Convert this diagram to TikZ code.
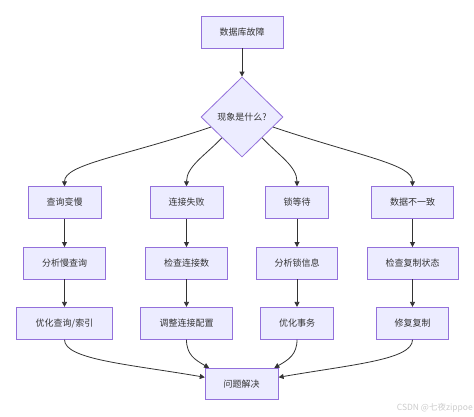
\documentclass[tikz,border=0pt]{standalone}
\usepackage{fontspec}
\setmainfont{Noto Sans CJK SC}
\usetikzlibrary{arrows.meta,shapes.geometric}
\definecolor{boxfill}{HTML}{ECECFF}
\definecolor{boxline}{HTML}{9370DB}
\definecolor{edgecol}{HTML}{333333}
\definecolor{txtcol}{HTML}{333333}
\begin{document}
\begin{tikzpicture}[x=1pt,y=-1pt,
  box/.style={draw=boxline, fill=boxfill, line width=0.8pt, font=\fontsize{9}{11}\selectfont,
    text=txtcol, inner sep=0pt, minimum height=31.5pt},
  dia/.style={diamond, draw=boxline, fill=boxfill, line width=0.8pt, font=\fontsize{9}{11}\selectfont,
    text=txtcol, inner sep=0pt, minimum width=82pt, minimum height=80pt},
  conn/.style={draw=edgecol, line width=0.8pt, -{Triangle[length=5pt,width=5pt]}}]
\useasboundingbox (0,0) rectangle (474,416);

\node[box, minimum width=82pt, minimum height=32pt] (start) at (242,32) {数据库故障};
\node[dia] (d) at (242,117) {现象是什么?};

\node[box, minimum width=73pt] (q1) at (64.5,202.4) {查询变慢};
\node[box, minimum width=73pt] (c1) at (186.5,202.4) {连接失败};
\node[box, minimum width=63pt] (l1) at (297,202.4) {锁等待};
\node[box, minimum width=82pt] (s1) at (412.5,202.4) {数据不一致};

\node[box, minimum width=82pt] (q2) at (64.5,263.2) {分析慢查询};
\node[box, minimum width=82pt] (c2) at (186.5,263.2) {检查连接数};
\node[box, minimum width=81pt] (l2) at (297,263.2) {分析锁信息};
\node[box, minimum width=91pt] (s2) at (412.5,263.2) {检查复制状态};

\node[box, minimum width=96pt, minimum height=32pt] (q3) at (64.5,323.3) {优化查询/索引};
\node[box, minimum width=92pt, minimum height=32pt] (c3) at (186.5,323.3) {调整连接配置};
\node[box, minimum width=73pt, minimum height=32pt] (l3) at (297,323.3) {优化事务};
\node[box, minimum width=72pt, minimum height=32pt] (s3) at (412.5,323.3) {修复复制};

\node[box, minimum width=73pt, minimum height=31pt] (fin) at (241.7,383.8) {问题解决};

\node[anchor=east, text=gray!40, font=\fontsize{8.5}{10}\selectfont, inner sep=0pt] (wm) at (473,408) {CSDN @七夜zippoe};

\draw[conn] (start) -- (d);

\draw[conn] (d.198) .. controls +(-90,30) and +(0,-22) .. (q1.north);
\draw[conn] (d.226) .. controls +(-16,17) and +(0,-20) .. (c1.north);
\draw[conn] (d.314) .. controls +(16,17) and +(0,-20) .. (l1.north);
\draw[conn] (d.342) .. controls +(90,30) and +(0,-22) .. (s1.north);

\draw[conn] (q1) -- (q2);
\draw[conn] (c1) -- (c2);
\draw[conn] (l1) -- (l2);
\draw[conn] (s1) -- (s2);

\draw[conn] (q2) -- (q3);
\draw[conn] (c2) -- (c3);
\draw[conn] (l2) -- (l3);
\draw[conn] (s2) -- (s3);

\draw[conn] (q3.south) .. controls +(0,20) and +(-75,-13) .. (fin.170);
\draw[conn] (c3.south) .. controls +(0,15) and +(-14,-8) .. (fin.154);
\draw[conn] (l3.south) .. controls +(0,15) and +(14,-8) .. (fin.26);
\draw[conn] (s3.south) .. controls +(0,20) and +(75,-13) .. (fin.10);
\end{tikzpicture}
\end{document}
